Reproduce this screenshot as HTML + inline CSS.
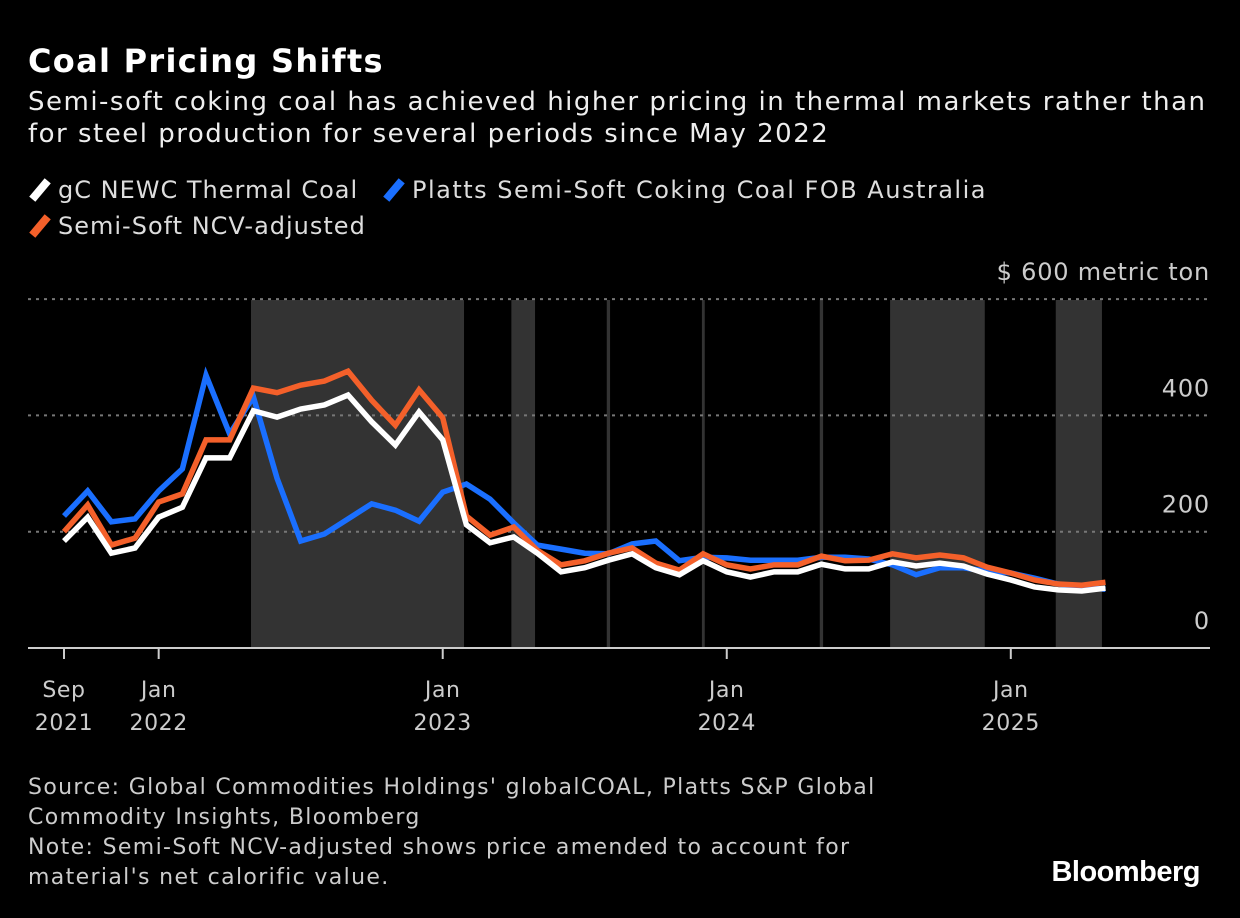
<!DOCTYPE html>
<html><head><meta charset="utf-8"><style>
body{margin:0;background:#000;width:1240px;height:918px;overflow:hidden;font-family:"DejaVu Sans","Liberation Sans",sans-serif;color:#fff}
.t{position:absolute;white-space:nowrap}
</style></head><body>
<div class="t" style="left:28px;top:42px;font-size:32px;font-weight:bold;letter-spacing:1.3px">Coal Pricing Shifts</div>
<div class="t" style="left:28px;top:86px;font-size:26px;line-height:32px;color:#eee;letter-spacing:1.5px">Semi-soft coking coal has achieved higher pricing in thermal markets rather than<br>for steel production for several periods since May 2022</div>
<div class="t" style="left:28px;top:176px;font-size:24px;color:#ddd;letter-spacing:1px"><span style="display:inline-block;width:8px;height:24px;background:#fff;transform:rotate(40deg);margin:0 14px -4px 8px"></span>gC NEWC Thermal Coal</div>
<div class="t" style="left:382px;top:176px;font-size:24px;color:#ddd;letter-spacing:1.5px"><span style="display:inline-block;width:8px;height:24px;background:#1a6fff;transform:rotate(40deg);margin:0 14px -4px 8px"></span>Platts Semi-Soft Coking Coal FOB Australia</div>
<div class="t" style="left:28px;top:212px;font-size:24px;color:#ddd;letter-spacing:1px"><span style="display:inline-block;width:8px;height:24px;background:#f4602a;transform:rotate(40deg);margin:0 14px -4px 8px"></span>Semi-Soft NCV-adjusted</div>
<svg id="c" width="1240" height="918" style="position:absolute;left:0;top:0"></svg>
<div class="t" style="left:28px;top:773px;font-size:22px;line-height:30px;color:#ccc;letter-spacing:1.35px">Source: Global Commodities Holdings' globalCOAL, Platts S&amp;P Global<br>Commodity Insights, Bloomberg<br>Note: Semi-Soft NCV-adjusted shows price amended to account for<br>material's net calorific value.</div>
<div class="t" style="right:40px;top:856px;font-size:29px;font-weight:bold;font-family:'Liberation Sans',sans-serif;letter-spacing:-0.5px">Bloomberg</div>
<script>
const thermal=[184,225,163,172,225,242,327,327,408,397,411,418,435,389,349,406,358,212,181,191,163,131,138,151,162,138,126,150,131,122,131,131,144,136,136,148,141,146,141,127,117,105,100,98,103];
const ncv=[200,246,177,189,251,265,358,358,447,439,452,459,476,426,383,444,396,227,194,208,168,143,150,163,172,146,134,162,143,136,143,143,158,150,151,162,155,160,155,139,129,117,110,108,113];
const platts=[227,270,217,222,270,308,469,368,432,292,184,196,222,248,237,218,268,282,256,215,177,170,163,162,179,184,150,156,155,151,151,151,156,156,153,143,126,138,138,132,129,120,110,105,101];
const shadeStart=[7.9,18.9,22.93,26.95,31.93,34.9,41.9];
const shadeEnd=[16.9,19.9,23.07,27.07,32.07,38.9,43.85];
const yTicks=[0,200,400,600];
const xTickIdx=[0,4,16,28,40];
const xTickLab=[["Sep","2021"],["Jan","2022"],["Jan","2023"],["Jan","2024"],["Jan","2025"]];
const svg=document.getElementById('c');const NS='http://www.w3.org/2000/svg';
const X=i=>64+i*23.67, Y=v=>648-v*0.5815;
function mk(t,a){const e=document.createElementNS(NS,t);for(const k in a)e.setAttribute(k,a[k]);svg.appendChild(e);return e;}
shadeStart.forEach((s,k)=>{const r=mk('rect',{x:X(s),y:300,width:X(shadeEnd[k])-X(s),height:348,fill:'#333'});

});
yTicks.forEach(v=>{if(v>0){const l=mk('line',{x1:28,x2:1210,y1:Y(v),y2:Y(v),stroke:'#777','stroke-width':2,'stroke-dasharray':'3,5'});

}
const t=mk('text',{x:1210,y:Y(v)-19,'text-anchor':'end','font-size':24,fill:'#ccc','font-family':'DejaVu Sans','letter-spacing':'0.8'});t.textContent=v==600?'$ 600 metric ton':v;

});
const ax=mk('line',{x1:28,x2:1210,y1:648,y2:648,stroke:'#ccc','stroke-width':2});


xTickIdx.forEach((i,k)=>{mk('line',{x1:X(i),x2:X(i),y1:648,y2:659,stroke:'#ccc','stroke-width':2});
xTickLab[k].forEach((s,j)=>{const t=mk('text',{x:X(i),y:697+j*33,'text-anchor':'middle','font-size':22,fill:'#ccc','font-family':'DejaVu Sans','letter-spacing':'0.6'});t.textContent=s;

});});
[[platts,'#1a6fff','line-platts'],[ncv,'#f4602a','line-ncv-adjusted'],[thermal,'#fff','line-thermal']].forEach(([d,c,n])=>{
const p=mk('polyline',{points:d.map((v,i)=>X(i)+','+Y(v)).join(' '),fill:'none',stroke:c,'stroke-width':5.5,'stroke-linejoin':'miter'});

});
</script>
</body></html>
